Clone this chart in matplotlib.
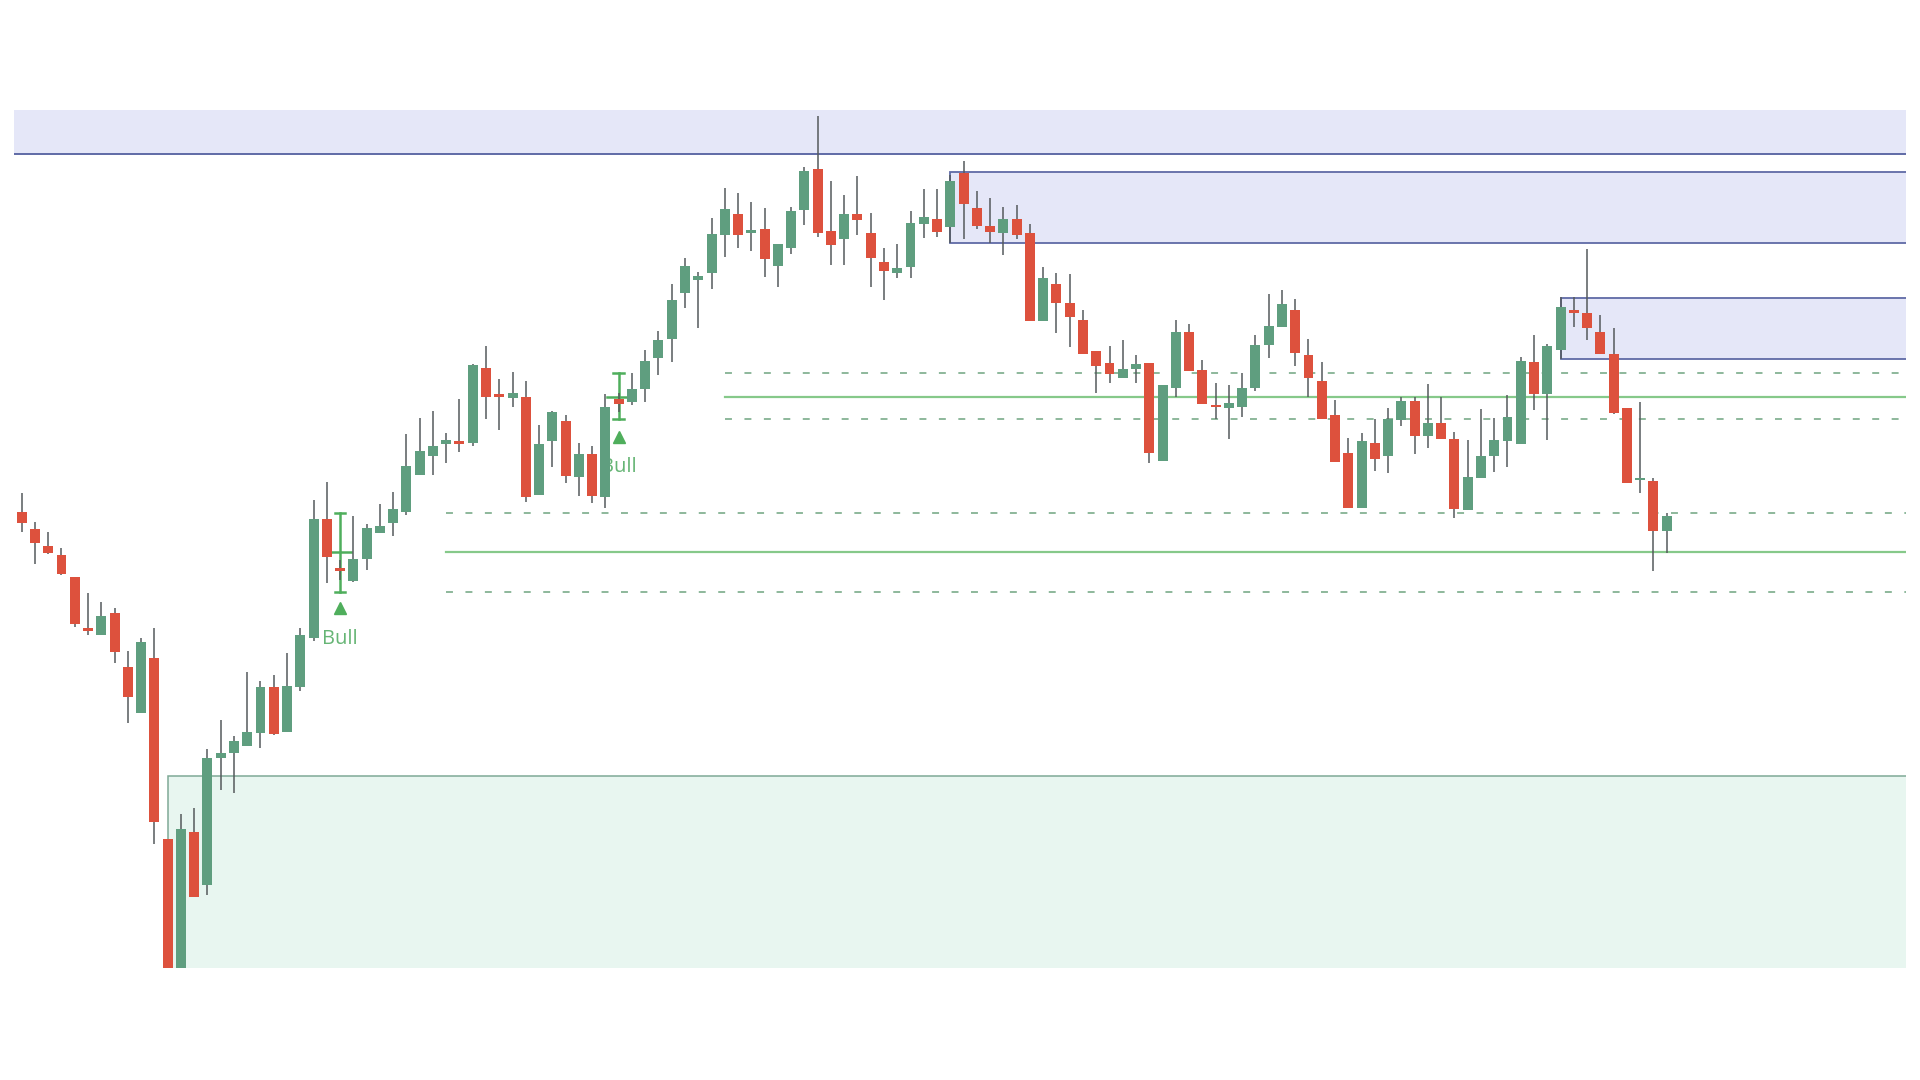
import matplotlib
matplotlib.use('Agg')
import matplotlib.pyplot as plt
from matplotlib.patches import Rectangle
import numpy as np

plt.rcParams['lines.scale_dashes'] = False

# OHLC values (arbitrary price units)
opens = [568, 551, 534, 525, 503, 452, 445, 467, 413, 367,
         422, 241, 112, 248, 195, 322, 327, 334, 347, 393,
         348, 393, 442, 561, 512, 499, 521, 547, 557, 568,
         605, 624, 636, 639, 637, 712, 686, 682, 683, 585,
         639, 659, 603, 626, 583, 681, 678, 691, 722, 741,
         787, 800, 807, 845, 866, 847, 851, 814, 832, 870,
         911, 849, 841, 866, 847, 818, 807, 813, 856, 861,
         853, 907, 872, 854, 847, 861, 847, 759, 796, 777,
         760, 729, 717, 702, 711, 717, 619, 692, 748, 710,
         675, 672, 673, 692, 735, 753, 770, 725, 699, 665,
         627, 572, 637, 624, 660, 679, 644, 657, 641, 570,
         602, 624, 639, 636, 718, 686, 730, 770, 767, 748,
         726, 672, 600, 599, 549]
highs = [587, 558, 548, 532, 503, 487, 478, 472, 429, 442,
         452, 241, 266, 272, 331, 360, 344, 408, 399, 405,
         427, 452, 580, 598, 520, 564, 556, 576, 588, 646,
         662, 669, 647, 681, 716, 734, 701, 708, 699, 655,
         669, 665, 637, 634, 686, 687, 707, 730, 749, 796,
         822, 808, 862, 892, 887, 878, 872, 836, 873, 913,
         964, 899, 885, 904, 867, 832, 836, 869, 891, 891,
         905, 919, 889, 882, 873, 875, 856, 813, 807, 806,
         770, 729, 734, 740, 725, 717, 695, 760, 756, 720,
         697, 695, 707, 745, 786, 790, 781, 741, 718, 680,
         642, 647, 661, 672, 683, 683, 696, 683, 648, 640,
         671, 662, 685, 723, 745, 736, 783, 783, 831, 765,
         752, 672, 678, 602, 567]
lows = [548, 516, 526, 505, 453, 445, 445, 417, 357, 367,
        236, 112, 112, 183, 185, 290, 287, 334, 332, 345,
        348, 389, 439, 497, 500, 498, 510, 547, 544, 565,
        605, 605, 617, 628, 634, 661, 650, 673, 578, 585,
        613, 597, 584, 577, 572, 668, 675, 678, 705, 718,
        772, 752, 791, 823, 832, 829, 803, 793, 826, 855,
        843, 815, 815, 845, 793, 780, 802, 802, 842, 843,
        837, 841, 851, 837, 825, 841, 759, 759, 747, 733,
        726, 687, 697, 702, 697, 617, 619, 683, 709, 676,
        661, 641, 663, 689, 722, 753, 714, 683, 661, 618,
        572, 572, 609, 607, 654, 626, 632, 641, 562, 570,
        602, 608, 613, 636, 670, 640, 721, 753, 740, 726,
        666, 597, 587, 509, 527]
closes = [557, 537, 527, 506, 456, 449, 464, 428, 383, 438,
          258, 112, 251, 183, 322, 327, 339, 348, 393, 346,
          394, 445, 561, 523, 509, 521, 552, 554, 571, 614,
          629, 634, 640, 636, 715, 683, 683, 687, 583, 636,
          668, 604, 626, 584, 673, 676, 691, 719, 740, 780,
          814, 804, 846, 871, 845, 850, 821, 836, 869, 909,
          847, 835, 866, 860, 822, 809, 812, 857, 863, 848,
          899, 876, 854, 848, 861, 845, 759, 802, 777, 763,
          726, 714, 706, 711, 716, 627, 695, 748, 709, 676,
          673, 677, 692, 735, 754, 776, 727, 702, 661, 618,
          572, 639, 621, 661, 679, 644, 657, 641, 571, 603,
          624, 640, 663, 719, 686, 734, 773, 767, 752, 726,
          667, 597, 602, 549, 564]

# supply zone at the top (only its lower edge is visible)
top_zone_low = 926
# supply boxes: start candle, low, high
box_start = [70, 116]
box_low = [837, 721]
box_high = [908, 782]
# demand zone: start candle and upper edge
demand_start = 11
demand_top = 304
# signal levels: start candle of the lines, mid, upper, lower
level_start = [32, 53]
level_mid = [528, 683]
level_up = [567, 707]
level_dn = [488, 661]
# bull signals: candle, triangle price, label price
signal_idx = [24, 45]
signal_tri = [472, 643]
signal_txt = [441, 613]
signal_label = 'Bull'

UP = '#5f9e7f'
DOWN = '#dd513d'
WICK = '#555a5c'
ZONE_FILL = '#e5e7f8'
ZONE_EDGE = '#5f6aa6'
DEMAND_FILL = '#e8f6f0'
DEMAND_EDGE = '#7fa996'
LEVEL = '#86c98a'
DASH = '#8db89b'
SIG = '#4fae5c'

fig = plt.figure(figsize=(19.2, 10.8), dpi=100)
ax = fig.add_axes([14 / 1920, 1 - 968 / 1080, 1892 / 1920, 858 / 1080])
ax.axis('off')
ax.set_xlim(-0.58, 142.04)
ax.set_ylim(112, 970)

x = np.arange(len(opens))
o = np.array(opens)
c = np.array(closes)
up = c >= o
right = 200

# zones
ax.add_patch(Rectangle((-5, top_zone_low), right, 500, facecolor=ZONE_FILL, edgecolor='none', zorder=1))
ax.axhline(top_zone_low, color=ZONE_EDGE, lw=1.4, zorder=2)
for s, lo, hi in zip(box_start, box_low, box_high):
	ax.add_patch(Rectangle((s, lo), right, hi - lo, facecolor=ZONE_FILL, edgecolor=ZONE_EDGE, lw=1.3, zorder=1))
ax.add_patch(Rectangle((demand_start, 0), right, demand_top, facecolor=DEMAND_FILL, edgecolor=DEMAND_EDGE, lw=1.1, zorder=1))

# signal levels
for s, m, u, d in zip(level_start, level_mid, level_up, level_dn):
	ax.plot([s, right], [m, m], color=LEVEL, lw=1.6, zorder=2)
	for yv in (u, d):
		ax.plot([s, right], [yv, yv], color=DASH, lw=1.4, dashes=(5, 9), zorder=2)

# bull markers
for i, m, u, d, t, ty in zip(signal_idx, level_mid, level_up, level_dn, signal_tri, signal_txt):
	ax.plot([i, i], [d, u], color=SIG, lw=1.8, zorder=3)
	ax.plot([i - 0.4, i + 0.4], [u, u], color=SIG, lw=1.8, zorder=3)
	ax.plot([i - 0.4, i + 0.4], [d, d], color=SIG, lw=1.8, zorder=3)
	ax.plot([i - 0.85, i + 0.85], [m, m], color=SIG, lw=1.8, zorder=3)
	ax.plot(i, t, marker='^', ms=9, color=SIG, mec=SIG, zorder=3)
	ax.text(i, ty, signal_label, ha='center', va='center', fontsize=14.5,
		color='#66b575', family='Open Sans', zorder=3)

# candles
ax.vlines(x, lows, highs, color=WICK, lw=1.1, zorder=4)
ax.bar(x, np.abs(c - o), bottom=np.minimum(o, c), width=0.75,
	color=np.where(up, UP, DOWN), zorder=5)

fig.savefig('out.png', dpi=100, facecolor='white')
